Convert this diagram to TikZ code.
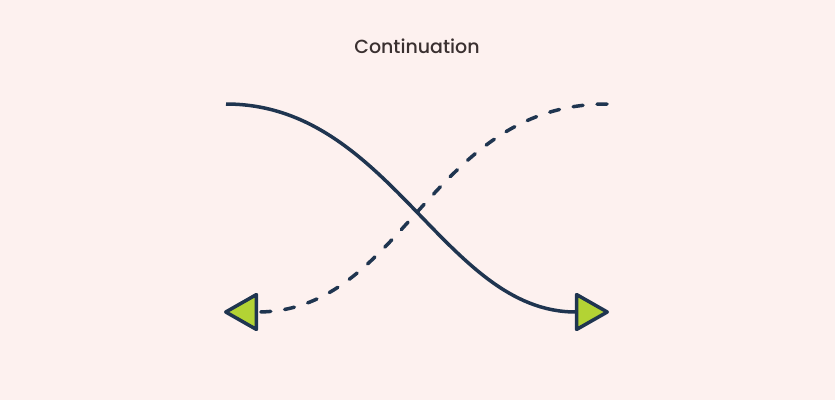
\documentclass[tikz,border=0pt]{standalone}
\usepackage{fontspec}
\setmainfont{Poppins}
\newfontfamily\titlefont{Poppins Medium}
\usetikzlibrary{arrows.meta}
\definecolor{bgpink}{HTML}{FDF1EF}
\definecolor{navy}{HTML}{1F3550}
\definecolor{lime}{HTML}{B3D334}
\definecolor{titlegray}{HTML}{3A3030}
\begin{document}
\begin{tikzpicture} [
  x=1pt, y=-1pt,
  flow/.style= {draw=navy,line width=3.5pt,
    -{Triangle[length=36pt,width=40pt,round,fill=lime]}},
  dashed flow/.style= {flow,line cap=round,dash pattern=on 10pt off 14pt},
]
\fill [bgpink] (0,0) rectangle (835,400);
\node (title) at (417,46) [text=titlegray,font=\titlefont\fontsize{19}{23}\selectfont] {Continuation};
\coordinate (S1) at (226,104);
\coordinate (E1) at (609,312);
\coordinate (S2) at (607,104);
\coordinate (E2) at (224,312);
\draw [flow] (S1) .. controls (390,104) and (444,312) .. (E1);
\draw [dashed flow] (S2) .. controls (430,104) and (404,312) .. (E2);
\end{tikzpicture}
\end{document}
